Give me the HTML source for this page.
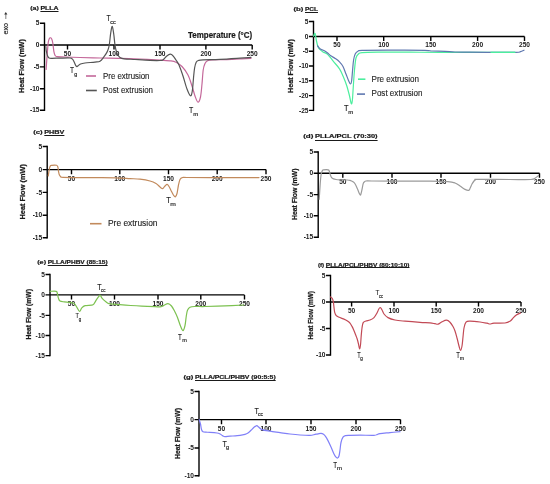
<!DOCTYPE html>
<html lang="en">
<head>
<meta charset="utf-8">
<title>DSC thermograms</title>
<style>
html,body{margin:0;padding:0;background:#fff;}
body{width:550px;height:484px;overflow:hidden;}
svg{display:block;}
</style>
</head>
<body>
<svg width="550" height="484" viewBox="0 0 550 484" font-family='"Liberation Sans", Arial, sans-serif'>
<rect width="550" height="484" fill="#fff"/>
<path d="M44.5 45H252.2" stroke="#000" stroke-width="1.4" fill="none"/>
<path d="M44.5 22.6V111" stroke="#000" stroke-width="1.4" fill="none"/>
<path d="M40 23.3H44.5M40 45H44.5M40 66.9H44.5M40 88.7H44.5M40 110.3H44.5M67.5 45V49.6M114 45V49.6M160 45V49.6M205.9 45V49.6M252.2 45V49.6" stroke="#000" stroke-width="1.4" fill="none"/>
<text x="39.5" y="25.41" font-size="7.3" font-weight="bold" text-anchor="end" fill="#1a1a1a" textLength="3.67" lengthAdjust="spacingAndGlyphs">5</text>
<text x="39.5" y="47.11" font-size="7.3" font-weight="bold" text-anchor="end" fill="#1a1a1a" textLength="3.67" lengthAdjust="spacingAndGlyphs">0</text>
<text x="39.5" y="69.01" font-size="7.3" font-weight="bold" text-anchor="end" fill="#1a1a1a" textLength="5.87" lengthAdjust="spacingAndGlyphs">-5</text>
<text x="39.5" y="90.81" font-size="7.3" font-weight="bold" text-anchor="end" fill="#1a1a1a" textLength="9.54" lengthAdjust="spacingAndGlyphs">-10</text>
<text x="39.5" y="112.41" font-size="7.3" font-weight="bold" text-anchor="end" fill="#1a1a1a" textLength="9.54" lengthAdjust="spacingAndGlyphs">-15</text>
<text x="67.5" y="55.9" font-size="7.3" font-weight="bold" text-anchor="middle" fill="#1a1a1a" textLength="7.34" lengthAdjust="spacingAndGlyphs">50</text>
<text x="114" y="55.9" font-size="7.3" font-weight="bold" text-anchor="middle" fill="#1a1a1a" textLength="11.01" lengthAdjust="spacingAndGlyphs">100</text>
<text x="160" y="55.9" font-size="7.3" font-weight="bold" text-anchor="middle" fill="#1a1a1a" textLength="11.01" lengthAdjust="spacingAndGlyphs">150</text>
<text x="205.9" y="55.9" font-size="7.3" font-weight="bold" text-anchor="middle" fill="#1a1a1a" textLength="11.01" lengthAdjust="spacingAndGlyphs">200</text>
<text x="252.2" y="55.9" font-size="7.3" font-weight="bold" text-anchor="middle" fill="#1a1a1a" textLength="11.01" lengthAdjust="spacingAndGlyphs">250</text>
<text transform="translate(21.8 66) rotate(-90)" x="0" y="2.41" font-size="7.6" font-weight="bold" text-anchor="middle" fill="#1a1a1a" stroke="#1a1a1a" stroke-width="0.25" textLength="54" lengthAdjust="spacingAndGlyphs">Heat Flow (mW)</text>
<text x="30.2" y="10" font-size="6.2" font-weight="bold" fill="#1a1a1a" stroke="#1a1a1a" stroke-width="0.22" textLength="8.6" lengthAdjust="spacingAndGlyphs">(a)</text>
<text x="40.4" y="10" font-size="6.2" font-weight="bold" fill="#1a1a1a" stroke="#1a1a1a" stroke-width="0.22" textLength="18.1" lengthAdjust="spacingAndGlyphs">PLLA</text>
<path d="M40.4 11.5H58.5" stroke="#1a1a1a" stroke-width="1" fill="none"/>
<path d="M46.1 69.5C46.32 66.53 47.03 56.28 47.4 51.7C47.77 47.12 47.97 44.22 48.3 42C48.63 39.78 49.02 39.1 49.4 38.4C49.78 37.7 50.2 37.67 50.6 37.8C51 37.93 51.43 38.33 51.8 39.2C52.17 40.07 52.45 40.92 52.8 43C53.15 45.08 53.5 49.6 53.9 51.7C54.3 53.8 54.63 54.77 55.2 55.6C55.77 56.43 55.67 56.47 57.3 56.7C58.93 56.93 61.22 56.87 65 57C68.78 57.13 74.17 57.33 80 57.5C85.83 57.67 93.33 57.87 100 58C106.67 58.13 113.33 58.13 120 58.3C126.67 58.47 133.33 58.72 140 59C146.67 59.28 155 59.7 160 60C165 60.3 167.33 60.43 170 60.8C172.67 61.17 174 61.25 176 62.2C178 63.15 180 64.37 182 66.5C184 68.63 186.33 71.75 188 75C189.67 78.25 190.83 82.5 192 86C193.17 89.5 194 93.3 195 96C196 98.7 197.08 102.03 198 102.2C198.92 102.37 199.83 100.03 200.5 97C201.17 93.97 201.55 88.5 202 84C202.45 79.5 202.7 73.42 203.2 70C203.7 66.58 204.28 65.03 205 63.5C205.72 61.97 206.33 61.42 207.5 60.8C208.67 60.18 209.08 60 212 59.8C214.92 59.6 220.33 59.75 225 59.6C229.67 59.45 235.67 59.1 240 58.9C244.33 58.7 249.17 58.48 251 58.4" stroke="#c4689a" stroke-width="1.2" fill="none" stroke-linejoin="round" stroke-linecap="round"/>
<path d="M45.9 46.5C45.97 47.25 46.02 49.42 46.3 51C46.58 52.58 47.13 54.83 47.6 56C48.07 57.17 48.37 57.62 49.1 58C49.83 58.38 50.18 58.28 52 58.3C53.82 58.32 57 58.15 60 58.1C63 58.05 67.92 57.82 70 58C72.08 58.18 71.78 58.48 72.5 59.2C73.22 59.92 73.75 61.23 74.3 62.3C74.85 63.37 75.35 64.88 75.8 65.6C76.25 66.32 76.58 66.6 77 66.6C77.42 66.6 77.72 66.03 78.3 65.6C78.88 65.17 79.38 64.43 80.5 64C81.62 63.57 82.58 63.32 85 63C87.42 62.68 92.5 62.4 95 62.1C97.5 61.8 98.58 61.98 100 61.2C101.42 60.42 102.35 58.87 103.5 57.4C104.65 55.93 106.03 54.03 106.9 52.4C107.77 50.77 108.25 49.25 108.7 47.6C109.15 45.95 109.25 45.03 109.6 42.5C109.95 39.97 110.35 35.08 110.8 32.4C111.25 29.72 111.8 26.05 112.3 26.4C112.8 26.75 113.38 31.62 113.8 34.5C114.22 37.38 114.48 41.3 114.8 43.7C115.12 46.1 115.28 47.18 115.7 48.9C116.12 50.62 116.58 52.58 117.3 54C118.02 55.42 118.83 56.6 120 57.4C121.17 58.2 121.8 58.45 124.3 58.8C126.8 59.15 130.72 59.23 135 59.5C139.28 59.77 145.83 60.23 150 60.4C154.17 60.57 157.83 60.6 160 60.5C162.17 60.4 161.92 60.5 163 59.8C164.08 59.1 165.28 57.23 166.5 56.3C167.72 55.37 169.22 54.28 170.3 54.2C171.38 54.12 172.05 54.83 173 55.8C173.95 56.77 175 58.47 176 60C177 61.53 177.83 62.33 179 65C180.17 67.67 181.67 72 183 76C184.33 80 185.75 85.7 187 89C188.25 92.3 189.62 95.47 190.5 95.8C191.38 96.13 191.8 93.97 192.3 91C192.8 88.03 193.12 81.83 193.5 78C193.88 74.17 194.15 70.62 194.6 68C195.05 65.38 195.55 63.55 196.2 62.3C196.85 61.05 197.37 60.9 198.5 60.5C199.63 60.1 199.42 60.08 203 59.9C206.58 59.72 213.83 59.68 220 59.4C226.17 59.12 234.83 58.53 240 58.2C245.17 57.87 249.17 57.53 251 57.4" stroke="#555555" stroke-width="1.2" fill="none" stroke-linejoin="round" stroke-linecap="round"/>
<path d="M313.5 36.5H524.5" stroke="#000" stroke-width="1.4" fill="none"/>
<path d="M313.5 20.8V111.1" stroke="#000" stroke-width="1.4" fill="none"/>
<path d="M309 21.5H313.5M309 36.5H313.5M309 51.2H313.5M309 66H313.5M309 80.8H313.5M309 95.6H313.5M309 110.4H313.5M337 36.5V41.1M383.7 36.5V41.1M430.8 36.5V41.1M477.6 36.5V41.1M524.5 36.5V41.1" stroke="#000" stroke-width="1.4" fill="none"/>
<text x="308.5" y="23.61" font-size="7.3" font-weight="bold" text-anchor="end" fill="#1a1a1a" textLength="3.67" lengthAdjust="spacingAndGlyphs">5</text>
<text x="308.5" y="38.61" font-size="7.3" font-weight="bold" text-anchor="end" fill="#1a1a1a" textLength="3.67" lengthAdjust="spacingAndGlyphs">0</text>
<text x="308.5" y="53.31" font-size="7.3" font-weight="bold" text-anchor="end" fill="#1a1a1a" textLength="5.87" lengthAdjust="spacingAndGlyphs">-5</text>
<text x="308.5" y="68.11" font-size="7.3" font-weight="bold" text-anchor="end" fill="#1a1a1a" textLength="9.54" lengthAdjust="spacingAndGlyphs">-10</text>
<text x="308.5" y="82.91" font-size="7.3" font-weight="bold" text-anchor="end" fill="#1a1a1a" textLength="9.54" lengthAdjust="spacingAndGlyphs">-15</text>
<text x="308.5" y="97.71" font-size="7.3" font-weight="bold" text-anchor="end" fill="#1a1a1a" textLength="9.54" lengthAdjust="spacingAndGlyphs">-20</text>
<text x="308.5" y="112.51" font-size="7.3" font-weight="bold" text-anchor="end" fill="#1a1a1a" textLength="9.54" lengthAdjust="spacingAndGlyphs">-25</text>
<text x="337" y="47.4" font-size="7.3" font-weight="bold" text-anchor="middle" fill="#1a1a1a" textLength="7.34" lengthAdjust="spacingAndGlyphs">50</text>
<text x="383.7" y="47.4" font-size="7.3" font-weight="bold" text-anchor="middle" fill="#1a1a1a" textLength="11.01" lengthAdjust="spacingAndGlyphs">100</text>
<text x="430.8" y="47.4" font-size="7.3" font-weight="bold" text-anchor="middle" fill="#1a1a1a" textLength="11.01" lengthAdjust="spacingAndGlyphs">150</text>
<text x="477.6" y="47.4" font-size="7.3" font-weight="bold" text-anchor="middle" fill="#1a1a1a" textLength="11.01" lengthAdjust="spacingAndGlyphs">200</text>
<text x="524.5" y="47.4" font-size="7.3" font-weight="bold" text-anchor="middle" fill="#1a1a1a" textLength="11.01" lengthAdjust="spacingAndGlyphs">250</text>
<text transform="translate(290.6 66) rotate(-90)" x="0" y="2.41" font-size="7.6" font-weight="bold" text-anchor="middle" fill="#1a1a1a" stroke="#1a1a1a" stroke-width="0.25" textLength="54" lengthAdjust="spacingAndGlyphs">Heat Flow (mW)</text>
<text x="293.5" y="11" font-size="6.2" font-weight="bold" fill="#1a1a1a" stroke="#1a1a1a" stroke-width="0.22" textLength="9.9" lengthAdjust="spacingAndGlyphs">(b)</text>
<text x="305" y="11" font-size="6.2" font-weight="bold" fill="#1a1a1a" stroke="#1a1a1a" stroke-width="0.22" textLength="13" lengthAdjust="spacingAndGlyphs">PCL</text>
<path d="M305 12.5H318" stroke="#1a1a1a" stroke-width="1" fill="none"/>
<path d="M313.6 36.2C313.83 35.73 314.52 32.6 315 33.4C315.48 34.2 316.03 38.87 316.5 41C316.97 43.13 317.3 44.83 317.8 46.2C318.3 47.57 318.63 48.25 319.5 49.2C320.37 50.15 321.83 51.17 323 51.9C324.17 52.63 325.33 52.75 326.5 53.6C327.67 54.45 328.85 55.7 330 57C331.15 58.3 331.82 59.43 333.4 61.4C334.98 63.37 337.9 66.37 339.5 68.8C341.1 71.23 341.83 73.3 343 76C344.17 78.7 345.45 81.83 346.5 85C347.55 88.17 348.5 91.87 349.3 95C350.1 98.13 350.78 102.97 351.3 103.8C351.82 104.63 352.08 102.63 352.4 100C352.72 97.37 352.85 93 353.2 88C353.55 83 354.03 75 354.5 70C354.97 65 355.33 60.67 356 58C356.67 55.33 357.5 54.9 358.5 54C359.5 53.1 358.42 52.9 362 52.6C365.58 52.3 372 52.27 380 52.2C388 52.13 400 52.18 410 52.2C420 52.22 428.33 52.28 440 52.3C451.67 52.32 467.5 52.3 480 52.3C492.5 52.3 509.17 52.3 515 52.3" stroke="#4cee9e" stroke-width="1.2" fill="none" stroke-linejoin="round" stroke-linecap="round"/>
<path d="M317.6 45.8C318 46.3 318.95 48.02 320 48.8C321.05 49.58 322.68 49.85 323.9 50.5C325.12 51.15 326.15 51.82 327.3 52.7C328.45 53.58 329.48 54.85 330.8 55.8C332.12 56.75 333.75 57.4 335.2 58.4C336.65 59.4 338.2 60.45 339.5 61.8C340.8 63.15 341.92 64.47 343 66.5C344.08 68.53 345.08 71.67 346 74C346.92 76.33 347.77 78.83 348.5 80.5C349.23 82.17 349.88 83.92 350.4 84C350.92 84.08 351.23 83.33 351.6 81C351.97 78.67 352.27 73.5 352.6 70C352.93 66.5 353.17 62.67 353.6 60C354.03 57.33 354.47 55.47 355.2 54C355.93 52.53 356.87 51.8 358 51.2C359.13 50.6 356.67 50.57 362 50.4C367.33 50.23 379.5 50.22 390 50.2C400.5 50.18 418 50.17 425 50.3C432 50.43 428.67 50.83 432 51C435.33 51.17 441.17 51.13 445 51.3C448.83 51.47 450.83 51.85 455 52C459.17 52.15 463.83 52.15 470 52.2C476.17 52.25 484.33 52.28 492 52.3C499.67 52.32 511.25 52.42 516 52.3C520.75 52.18 519.17 51.95 520.5 51.6C521.83 51.25 523.42 50.43 524 50.2" stroke="#5f78b0" stroke-width="1.2" fill="none" stroke-linejoin="round" stroke-linecap="round"/>
<path d="M491 52.3C493 52.3 499 52.3 503 52.3C507 52.3 513 52.3 515 52.3" stroke="#4cee9e" stroke-width="1.2" fill="none" stroke-linejoin="round" stroke-linecap="round"/>
<path d="M47.2 169.6H266" stroke="#000" stroke-width="1.4" fill="none"/>
<path d="M47.2 145.8V238.5" stroke="#000" stroke-width="1.4" fill="none"/>
<path d="M42.7 146.5H47.2M42.7 169.6H47.2M42.7 192.4H47.2M42.7 215.2H47.2M42.7 237.8H47.2M71.5 169.6V174.2M119.8 169.6V174.2M168.5 169.6V174.2M217.2 169.6V174.2M266 169.6V174.2" stroke="#000" stroke-width="1.4" fill="none"/>
<text x="42.2" y="148.61" font-size="7.3" font-weight="bold" text-anchor="end" fill="#1a1a1a" textLength="3.67" lengthAdjust="spacingAndGlyphs">5</text>
<text x="42.2" y="171.71" font-size="7.3" font-weight="bold" text-anchor="end" fill="#1a1a1a" textLength="3.67" lengthAdjust="spacingAndGlyphs">0</text>
<text x="42.2" y="194.51" font-size="7.3" font-weight="bold" text-anchor="end" fill="#1a1a1a" textLength="5.87" lengthAdjust="spacingAndGlyphs">-5</text>
<text x="42.2" y="217.31" font-size="7.3" font-weight="bold" text-anchor="end" fill="#1a1a1a" textLength="9.54" lengthAdjust="spacingAndGlyphs">-10</text>
<text x="42.2" y="239.91" font-size="7.3" font-weight="bold" text-anchor="end" fill="#1a1a1a" textLength="9.54" lengthAdjust="spacingAndGlyphs">-15</text>
<text x="71.5" y="180.5" font-size="7.3" font-weight="bold" text-anchor="middle" fill="#1a1a1a" textLength="7.34" lengthAdjust="spacingAndGlyphs">50</text>
<text x="119.8" y="180.5" font-size="7.3" font-weight="bold" text-anchor="middle" fill="#1a1a1a" textLength="11.01" lengthAdjust="spacingAndGlyphs">100</text>
<text x="168.5" y="180.5" font-size="7.3" font-weight="bold" text-anchor="middle" fill="#1a1a1a" textLength="11.01" lengthAdjust="spacingAndGlyphs">150</text>
<text x="217.2" y="180.5" font-size="7.3" font-weight="bold" text-anchor="middle" fill="#1a1a1a" textLength="11.01" lengthAdjust="spacingAndGlyphs">200</text>
<text x="266" y="180.5" font-size="7.3" font-weight="bold" text-anchor="middle" fill="#1a1a1a" textLength="11.01" lengthAdjust="spacingAndGlyphs">250</text>
<text transform="translate(23 191.8) rotate(-90)" x="0" y="2.41" font-size="7.6" font-weight="bold" text-anchor="middle" fill="#1a1a1a" stroke="#1a1a1a" stroke-width="0.25" textLength="55.5" lengthAdjust="spacingAndGlyphs">Heat Flow (mW)</text>
<text x="33.2" y="134" font-size="6.2" font-weight="bold" fill="#1a1a1a" stroke="#1a1a1a" stroke-width="0.22" textLength="9.5" lengthAdjust="spacingAndGlyphs">(c)</text>
<text x="44.3" y="134" font-size="6.2" font-weight="bold" fill="#1a1a1a" stroke="#1a1a1a" stroke-width="0.22" textLength="20.1" lengthAdjust="spacingAndGlyphs">PHBV</text>
<path d="M44.3 135.5H64.4" stroke="#1a1a1a" stroke-width="1" fill="none"/>
<path d="M48.3 175.9C48.4 175.13 48.7 172.6 48.9 171.3C49.1 170 49.25 169.02 49.5 168.1C49.75 167.18 50.07 166.27 50.4 165.8C50.73 165.33 50.48 165.38 51.5 165.3C52.52 165.22 55.43 164.98 56.5 165.3C57.57 165.62 57.57 166.2 57.9 167.2C58.23 168.2 58.27 170.03 58.5 171.3C58.73 172.57 58.92 173.88 59.3 174.8C59.68 175.72 60.17 176.37 60.8 176.8C61.43 177.23 59.9 177.27 63.1 177.4C66.3 177.53 73.85 177.57 80 177.6C86.15 177.63 94.17 177.57 100 177.6C105.83 177.63 110 177.63 115 177.8C120 177.97 125.83 178.37 130 178.6C134.17 178.83 136.67 178.8 140 179.2C143.33 179.6 147.33 180.28 150 181C152.67 181.72 154.33 182.5 156 183.5C157.67 184.5 158.9 186.13 160 187C161.1 187.87 161.8 188.83 162.6 188.7C163.4 188.57 164.05 186.93 164.8 186.2C165.55 185.47 166.4 184.25 167.1 184.3C167.8 184.35 168.35 185.47 169 186.5C169.65 187.53 170.27 189.08 171 190.5C171.73 191.92 172.68 193.93 173.4 195C174.12 196.07 174.7 197.15 175.3 196.9C175.9 196.65 176.48 195.4 177 193.5C177.52 191.6 177.9 187.83 178.4 185.5C178.9 183.17 179.35 180.82 180 179.5C180.65 178.18 181.13 177.93 182.3 177.6C183.47 177.27 182.38 177.5 187 177.5C191.62 177.5 198 177.58 210 177.6C222 177.62 250.83 177.6 259 177.6" stroke="#c28a5c" stroke-width="1.2" fill="none" stroke-linejoin="round" stroke-linecap="round"/>
<path d="M318.2 173.2H539.5" stroke="#000" stroke-width="1.4" fill="none"/>
<path d="M318.2 151.3V237.9" stroke="#000" stroke-width="1.4" fill="none"/>
<path d="M313.7 152H318.2M313.7 173.2H318.2M313.7 194.6H318.2M313.7 215.7H318.2M313.7 237.2H318.2M342.8 173.2V177.8M392 173.2V177.8M441 173.2V177.8M490.5 173.2V177.8M539.5 173.2V177.8" stroke="#000" stroke-width="1.4" fill="none"/>
<text x="313.2" y="154.11" font-size="7.3" font-weight="bold" text-anchor="end" fill="#1a1a1a" textLength="3.67" lengthAdjust="spacingAndGlyphs">5</text>
<text x="313.2" y="175.31" font-size="7.3" font-weight="bold" text-anchor="end" fill="#1a1a1a" textLength="3.67" lengthAdjust="spacingAndGlyphs">0</text>
<text x="313.2" y="196.71" font-size="7.3" font-weight="bold" text-anchor="end" fill="#1a1a1a" textLength="5.87" lengthAdjust="spacingAndGlyphs">-5</text>
<text x="313.2" y="217.81" font-size="7.3" font-weight="bold" text-anchor="end" fill="#1a1a1a" textLength="9.54" lengthAdjust="spacingAndGlyphs">-10</text>
<text x="313.2" y="239.31" font-size="7.3" font-weight="bold" text-anchor="end" fill="#1a1a1a" textLength="9.54" lengthAdjust="spacingAndGlyphs">-15</text>
<text x="342.8" y="184.1" font-size="7.3" font-weight="bold" text-anchor="middle" fill="#1a1a1a" textLength="7.34" lengthAdjust="spacingAndGlyphs">50</text>
<text x="392" y="184.1" font-size="7.3" font-weight="bold" text-anchor="middle" fill="#1a1a1a" textLength="11.01" lengthAdjust="spacingAndGlyphs">100</text>
<text x="441" y="184.1" font-size="7.3" font-weight="bold" text-anchor="middle" fill="#1a1a1a" textLength="11.01" lengthAdjust="spacingAndGlyphs">150</text>
<text x="490.5" y="184.1" font-size="7.3" font-weight="bold" text-anchor="middle" fill="#1a1a1a" textLength="11.01" lengthAdjust="spacingAndGlyphs">200</text>
<text x="539.5" y="184.1" font-size="7.3" font-weight="bold" text-anchor="middle" fill="#1a1a1a" textLength="11.01" lengthAdjust="spacingAndGlyphs">250</text>
<text transform="translate(294.7 194.3) rotate(-90)" x="0" y="2.41" font-size="7.6" font-weight="bold" text-anchor="middle" fill="#1a1a1a" stroke="#1a1a1a" stroke-width="0.25" textLength="51.5" lengthAdjust="spacingAndGlyphs">Heat Flow (mW)</text>
<text x="303.2" y="138.3" font-size="6.2" font-weight="bold" fill="#1a1a1a" stroke="#1a1a1a" stroke-width="0.22" textLength="10.2" lengthAdjust="spacingAndGlyphs">(d)</text>
<text x="315" y="138.3" font-size="6.2" font-weight="bold" fill="#1a1a1a" stroke="#1a1a1a" stroke-width="0.22" textLength="62.6" lengthAdjust="spacingAndGlyphs">PLLA/PCL (70:30)</text>
<path d="M315 140.5H377.6" stroke="#1a1a1a" stroke-width="1" fill="none"/>
<path d="M319.2 199.3C319.3 197.75 319.58 193.22 319.8 190C320.02 186.78 320.25 182.75 320.5 180C320.75 177.25 320.98 175.07 321.3 173.5C321.62 171.93 322.03 171.2 322.4 170.6C322.77 170 322.52 170.02 323.5 169.9C324.48 169.78 327.32 169.63 328.3 169.9C329.28 170.17 329.05 170.65 329.4 171.5C329.75 172.35 330.03 173.98 330.4 175C330.77 176.02 331.08 176.95 331.6 177.6C332.12 178.25 332.77 178.58 333.5 178.9C334.23 179.22 334.92 179.35 336 179.5C337.08 179.65 338.17 179.72 340 179.8C341.83 179.88 345.33 179.9 347 180C348.67 180.1 349 180.1 350 180.4C351 180.7 352.17 181.23 353 181.8C353.83 182.37 354.27 182.65 355 183.8C355.73 184.95 356.7 187.13 357.4 188.7C358.1 190.27 358.7 192.12 359.2 193.2C359.7 194.28 360.05 195.3 360.4 195.2C360.75 195.1 361.02 193.63 361.3 192.6C361.58 191.57 361.78 190.5 362.1 189C362.42 187.5 362.8 184.8 363.2 183.6C363.6 182.4 364.03 182.23 364.5 181.8C364.97 181.37 364.75 181.13 366 181C367.25 180.87 366.33 180.97 372 181C377.67 181.03 390.33 181.18 400 181.2C409.67 181.22 422 181.03 430 181.1C438 181.17 443.83 181.28 448 181.6C452.17 181.92 453 182.27 455 183C457 183.73 458.33 184.93 460 186C461.67 187.07 463.55 188.67 465 189.4C466.45 190.13 467.83 190.63 468.7 190.4C469.57 190.17 469.65 189.07 470.2 188C470.75 186.93 471.37 185.17 472 184C472.63 182.83 473.4 181.73 474 181C474.6 180.27 474.93 179.87 475.6 179.6C476.27 179.33 472.27 179.42 478 179.4C483.73 179.38 501.17 179.48 510 179.5C518.83 179.52 526.83 179.72 531 179.5C535.17 179.28 533.75 178.85 535 178.2C536.25 177.55 537.92 176.03 538.5 175.6" stroke="#9a9a9a" stroke-width="1.2" fill="none" stroke-linejoin="round" stroke-linecap="round"/>
<path d="M50 294.9H244.5" stroke="#000" stroke-width="1.4" fill="none"/>
<path d="M50 273.8V356.3" stroke="#000" stroke-width="1.4" fill="none"/>
<path d="M45.5 274.5H50M45.5 294.9H50M45.5 315.4H50M45.5 335.5H50M45.5 355.6H50M71.5 294.9V299.5M114.5 294.9V299.5M158 294.9V299.5M200.8 294.9V299.5M244.5 294.9V299.5" stroke="#000" stroke-width="1.4" fill="none"/>
<text x="45" y="276.61" font-size="7.3" font-weight="bold" text-anchor="end" fill="#1a1a1a" textLength="3.67" lengthAdjust="spacingAndGlyphs">5</text>
<text x="45" y="297.01" font-size="7.3" font-weight="bold" text-anchor="end" fill="#1a1a1a" textLength="3.67" lengthAdjust="spacingAndGlyphs">0</text>
<text x="45" y="317.51" font-size="7.3" font-weight="bold" text-anchor="end" fill="#1a1a1a" textLength="5.87" lengthAdjust="spacingAndGlyphs">-5</text>
<text x="45" y="337.61" font-size="7.3" font-weight="bold" text-anchor="end" fill="#1a1a1a" textLength="9.54" lengthAdjust="spacingAndGlyphs">-10</text>
<text x="45" y="357.71" font-size="7.3" font-weight="bold" text-anchor="end" fill="#1a1a1a" textLength="9.54" lengthAdjust="spacingAndGlyphs">-15</text>
<text x="71.5" y="305.8" font-size="7.3" font-weight="bold" text-anchor="middle" fill="#1a1a1a" textLength="7.34" lengthAdjust="spacingAndGlyphs">50</text>
<text x="114.5" y="305.8" font-size="7.3" font-weight="bold" text-anchor="middle" fill="#1a1a1a" textLength="11.01" lengthAdjust="spacingAndGlyphs">100</text>
<text x="158" y="305.8" font-size="7.3" font-weight="bold" text-anchor="middle" fill="#1a1a1a" textLength="11.01" lengthAdjust="spacingAndGlyphs">150</text>
<text x="200.8" y="305.8" font-size="7.3" font-weight="bold" text-anchor="middle" fill="#1a1a1a" textLength="11.01" lengthAdjust="spacingAndGlyphs">200</text>
<text x="244.5" y="305.8" font-size="7.3" font-weight="bold" text-anchor="middle" fill="#1a1a1a" textLength="11.01" lengthAdjust="spacingAndGlyphs">250</text>
<text transform="translate(29 314.3) rotate(-90)" x="0" y="2.41" font-size="7.6" font-weight="bold" text-anchor="middle" fill="#1a1a1a" stroke="#1a1a1a" stroke-width="0.25" textLength="50.5" lengthAdjust="spacingAndGlyphs">Heat Flow (mW)</text>
<text x="37.2" y="264" font-size="6.2" font-weight="bold" fill="#1a1a1a" stroke="#1a1a1a" stroke-width="0.22" textLength="8.9" lengthAdjust="spacingAndGlyphs">(e)</text>
<text x="47.7" y="264" font-size="6.2" font-weight="bold" fill="#1a1a1a" stroke="#1a1a1a" stroke-width="0.22" textLength="59.9" lengthAdjust="spacingAndGlyphs">PLLA/PHBV (85:15)</text>
<path d="M47.7 265.5H107.6" stroke="#1a1a1a" stroke-width="1" fill="none"/>
<path d="M50.2 291.3C51.2 291.3 55.02 290.98 56.2 291.3C57.38 291.62 56.93 292.07 57.3 293.2C57.67 294.33 57.95 296.78 58.4 298.1C58.85 299.42 59 300.47 60 301.1C61 301.73 62.77 301.68 64.4 301.9C66.03 302.12 68.17 302.13 69.8 302.4C71.43 302.67 73.02 302.67 74.2 303.5C75.38 304.33 76 306.07 76.9 307.4C77.8 308.73 78.78 311.42 79.6 311.5C80.42 311.58 80.88 308.87 81.8 307.9C82.72 306.93 83.47 306.15 85.1 305.7C86.73 305.25 90.15 305.47 91.6 305.2C93.05 304.93 92.98 305.02 93.8 304.1C94.62 303.18 95.58 301.07 96.5 299.7C97.42 298.33 98.67 296.62 99.3 295.9C99.93 295.18 99.78 294.93 100.3 295.4C100.82 295.87 101.42 297.6 102.4 298.7C103.38 299.8 105.12 301.18 106.2 302C107.28 302.82 107.53 303.23 108.9 303.6C110.27 303.97 112.58 304.02 114.4 304.2C116.22 304.38 117.08 304.48 119.8 304.7C122.52 304.92 127.07 305.27 130.7 305.5C134.33 305.73 137.55 305.92 141.6 306.1C145.65 306.28 151.93 306.47 155 306.6C158.07 306.73 158.58 307.07 160 306.9C161.42 306.73 162.17 306.15 163.5 305.6C164.83 305.05 166.67 303.53 168 303.6C169.33 303.67 170.42 304.77 171.5 306C172.58 307.23 173.5 309.08 174.5 311C175.5 312.92 176.5 315 177.5 317.5C178.5 320 179.58 323.82 180.5 326C181.42 328.18 182.25 330.68 183 330.6C183.75 330.52 184.45 327.93 185 325.5C185.55 323.07 185.88 318.53 186.3 316C186.72 313.47 186.88 311.75 187.5 310.3C188.12 308.85 188.75 307.93 190 307.3C191.25 306.67 192.5 306.63 195 306.5C197.5 306.37 200 306.62 205 306.5C210 306.38 218.5 306.05 225 305.8C231.5 305.55 240.83 305.13 244 305" stroke="#7cc150" stroke-width="1.2" fill="none" stroke-linejoin="round" stroke-linecap="round"/>
<path d="M330.5 302H521" stroke="#000" stroke-width="1.4" fill="none"/>
<path d="M330.5 274.8V355.7" stroke="#000" stroke-width="1.4" fill="none"/>
<path d="M326 275.5H330.5M326 302H330.5M326 328.5H330.5M326 355H330.5M351.6 302V306.6M394 302V306.6M436.2 302V306.6M478.5 302V306.6M521 302V306.6" stroke="#000" stroke-width="1.4" fill="none"/>
<text x="325.5" y="277.61" font-size="7.3" font-weight="bold" text-anchor="end" fill="#1a1a1a" textLength="3.67" lengthAdjust="spacingAndGlyphs">5</text>
<text x="325.5" y="304.11" font-size="7.3" font-weight="bold" text-anchor="end" fill="#1a1a1a" textLength="3.67" lengthAdjust="spacingAndGlyphs">0</text>
<text x="325.5" y="330.61" font-size="7.3" font-weight="bold" text-anchor="end" fill="#1a1a1a" textLength="5.87" lengthAdjust="spacingAndGlyphs">-5</text>
<text x="325.5" y="357.11" font-size="7.3" font-weight="bold" text-anchor="end" fill="#1a1a1a" textLength="9.54" lengthAdjust="spacingAndGlyphs">-10</text>
<text x="351.6" y="312.9" font-size="7.3" font-weight="bold" text-anchor="middle" fill="#1a1a1a" textLength="7.34" lengthAdjust="spacingAndGlyphs">50</text>
<text x="394" y="312.9" font-size="7.3" font-weight="bold" text-anchor="middle" fill="#1a1a1a" textLength="11.01" lengthAdjust="spacingAndGlyphs">100</text>
<text x="436.2" y="312.9" font-size="7.3" font-weight="bold" text-anchor="middle" fill="#1a1a1a" textLength="11.01" lengthAdjust="spacingAndGlyphs">150</text>
<text x="478.5" y="312.9" font-size="7.3" font-weight="bold" text-anchor="middle" fill="#1a1a1a" textLength="11.01" lengthAdjust="spacingAndGlyphs">200</text>
<text x="521" y="312.9" font-size="7.3" font-weight="bold" text-anchor="middle" fill="#1a1a1a" textLength="11.01" lengthAdjust="spacingAndGlyphs">250</text>
<text transform="translate(310.2 315.3) rotate(-90)" x="0" y="2.41" font-size="7.6" font-weight="bold" text-anchor="middle" fill="#1a1a1a" stroke="#1a1a1a" stroke-width="0.25" textLength="48.5" lengthAdjust="spacingAndGlyphs">Heat Flow (mW)</text>
<text x="317.9" y="266.7" font-size="6.2" font-weight="bold" fill="#1a1a1a" stroke="#1a1a1a" stroke-width="0.22" textLength="6.3" lengthAdjust="spacingAndGlyphs">(f)</text>
<text x="325.8" y="266.7" font-size="6.2" font-weight="bold" fill="#1a1a1a" stroke="#1a1a1a" stroke-width="0.22" textLength="83.7" lengthAdjust="spacingAndGlyphs">PLLA/PCL/PHBV (80:10:10)</text>
<path d="M325.8 267.5H409.5" stroke="#1a1a1a" stroke-width="1" fill="none"/>
<path d="M330.6 297C330.87 297.22 331.75 297.53 332.2 298.3C332.65 299.07 333.02 300.23 333.3 301.6C333.58 302.97 333.67 304.72 333.9 306.5C334.13 308.28 334.3 310.78 334.7 312.3C335.1 313.82 335.55 314.77 336.3 315.6C337.05 316.43 338.02 316.75 339.2 317.3C340.38 317.85 342.02 318.28 343.4 318.9C344.78 319.52 346.4 320.3 347.5 321C348.6 321.7 349.25 322.2 350 323.1C350.75 324 351.38 325.25 352 326.4C352.62 327.55 353.12 328.65 353.7 330C354.28 331.35 354.92 333 355.5 334.5C356.08 336 356.7 337.42 357.2 339C357.7 340.58 358.12 342.37 358.5 344C358.88 345.63 359.17 348.63 359.5 348.8C359.83 348.97 360.22 347.13 360.5 345C360.78 342.87 360.95 338.83 361.2 336C361.45 333.17 361.67 330.23 362 328C362.33 325.77 362.53 323.77 363.2 322.6C363.87 321.43 364.87 321.43 366 321C367.13 320.57 368.67 320.57 370 320C371.33 319.43 372.83 318.77 374 317.6C375.17 316.43 376.2 314.43 377 313C377.8 311.57 378.27 309.92 378.8 309C379.33 308.08 379.7 307.42 380.2 307.5C380.7 307.58 381.17 308.42 381.8 309.5C382.43 310.58 382.97 312.65 384 314C385.03 315.35 386.17 316.6 388 317.6C389.83 318.6 392.17 319.4 395 320C397.83 320.6 400.83 320.8 405 321.2C409.17 321.6 415.83 322.12 420 322.4C424.17 322.68 427.5 322.68 430 322.9C432.5 323.12 433.67 323.48 435 323.7C436.33 323.92 436.83 324.52 438 324.2C439.17 323.88 440.58 322.47 442 321.8C443.42 321.13 445.17 320.13 446.5 320.2C447.83 320.27 448.92 321.15 450 322.2C451.08 323.25 452.17 325.03 453 326.5C453.83 327.97 454.33 329.08 455 331C455.67 332.92 456.33 335.5 457 338C457.67 340.5 458.42 343.92 459 346C459.58 348.08 460 350.5 460.5 350.5C461 350.5 461.58 348.25 462 346C462.42 343.75 462.67 340 463 337C463.33 334 463.5 330.47 464 328C464.5 325.53 465 323.33 466 322.2C467 321.07 467.67 321.23 470 321.2C472.33 321.17 477.17 321.67 480 322C482.83 322.33 485.33 322.87 487 323.2C488.67 323.53 488.83 324 490 324C491.17 324 491.5 323.37 494 323.2C496.5 323.03 502.33 323.33 505 323C507.67 322.67 508.67 322 510 321.2C511.33 320.4 512 319.2 513 318.2C514 317.2 514.75 316.07 516 315.2C517.25 314.33 519.75 313.37 520.5 313" stroke="#c24a56" stroke-width="1.2" fill="none" stroke-linejoin="round" stroke-linecap="round"/>
<path d="M199 419.6H400.5" stroke="#000" stroke-width="1.4" fill="none"/>
<path d="M199 390.8V476.5" stroke="#000" stroke-width="1.4" fill="none"/>
<path d="M194.5 391.5H199M194.5 419.6H199M194.5 448H199M194.5 475.8H199M221.5 419.6V424.2M266 419.6V424.2M311 419.6V424.2M356 419.6V424.2M400.5 419.6V424.2" stroke="#000" stroke-width="1.4" fill="none"/>
<text x="194" y="393.61" font-size="7.3" font-weight="bold" text-anchor="end" fill="#1a1a1a" textLength="3.67" lengthAdjust="spacingAndGlyphs">5</text>
<text x="194" y="421.71" font-size="7.3" font-weight="bold" text-anchor="end" fill="#1a1a1a" textLength="3.67" lengthAdjust="spacingAndGlyphs">0</text>
<text x="194" y="450.11" font-size="7.3" font-weight="bold" text-anchor="end" fill="#1a1a1a" textLength="5.87" lengthAdjust="spacingAndGlyphs">-5</text>
<text x="194" y="477.91" font-size="7.3" font-weight="bold" text-anchor="end" fill="#1a1a1a" textLength="9.54" lengthAdjust="spacingAndGlyphs">-10</text>
<text x="221.5" y="430.5" font-size="7.3" font-weight="bold" text-anchor="middle" fill="#1a1a1a" textLength="7.34" lengthAdjust="spacingAndGlyphs">50</text>
<text x="266" y="430.5" font-size="7.3" font-weight="bold" text-anchor="middle" fill="#1a1a1a" textLength="11.01" lengthAdjust="spacingAndGlyphs">100</text>
<text x="311" y="430.5" font-size="7.3" font-weight="bold" text-anchor="middle" fill="#1a1a1a" textLength="11.01" lengthAdjust="spacingAndGlyphs">150</text>
<text x="356" y="430.5" font-size="7.3" font-weight="bold" text-anchor="middle" fill="#1a1a1a" textLength="11.01" lengthAdjust="spacingAndGlyphs">200</text>
<text x="400.5" y="430.5" font-size="7.3" font-weight="bold" text-anchor="middle" fill="#1a1a1a" textLength="11.01" lengthAdjust="spacingAndGlyphs">250</text>
<text transform="translate(177.4 433.5) rotate(-90)" x="0" y="2.41" font-size="7.6" font-weight="bold" text-anchor="middle" fill="#1a1a1a" stroke="#1a1a1a" stroke-width="0.25" textLength="51" lengthAdjust="spacingAndGlyphs">Heat Flow (mW)</text>
<text x="183.5" y="378.7" font-size="6.2" font-weight="bold" fill="#1a1a1a" stroke="#1a1a1a" stroke-width="0.22" textLength="9.9" lengthAdjust="spacingAndGlyphs">(g)</text>
<text x="195" y="378.7" font-size="6.2" font-weight="bold" fill="#1a1a1a" stroke="#1a1a1a" stroke-width="0.22" textLength="80.7" lengthAdjust="spacingAndGlyphs">PLLA/PCL/PHBV (90:5:5)</text>
<path d="M195 380.5H275.7" stroke="#1a1a1a" stroke-width="1" fill="none"/>
<path d="M199.2 419.6C199.42 420.33 200.12 422.35 200.5 424C200.88 425.65 201.08 428.2 201.5 429.5C201.92 430.8 202.25 431.35 203 431.8C203.75 432.25 204.83 432.12 206 432.2C207.17 432.28 208.17 432.17 210 432.3C211.83 432.43 215.33 432.72 217 433C218.67 433.28 219.08 433.57 220 434C220.92 434.43 221.67 435.17 222.5 435.6C223.33 436.03 223.75 436.5 225 436.6C226.25 436.7 227.5 436.4 230 436.2C232.5 436 237.5 435.7 240 435.4C242.5 435.1 243.67 434.8 245 434.4C246.33 434 247 433.68 248 433C249 432.32 250 431.25 251 430.3C252 429.35 253.03 428.07 254 427.3C254.97 426.53 256.03 425.75 256.8 425.7C257.57 425.65 257.73 426.35 258.6 427C259.47 427.65 260.1 428.9 262 429.6C263.9 430.3 267 430.7 270 431.2C273 431.7 276.67 432.13 280 432.6C283.33 433.07 286.67 433.6 290 434C293.33 434.4 296.67 434.77 300 435C303.33 435.23 307.5 435.5 310 435.4C312.5 435.3 313.67 434.67 315 434.4C316.33 434.13 317 433.98 318 433.8C319 433.62 320.08 433.23 321 433.3C321.92 433.37 322.75 433.7 323.5 434.2C324.25 434.7 324.75 435.23 325.5 436.3C326.25 437.37 327.08 438.82 328 440.6C328.92 442.38 330 444.77 331 447C332 449.23 333.17 452.3 334 454C334.83 455.7 335.4 456.53 336 457.2C336.6 457.87 337.1 458.2 337.6 458C338.1 457.8 338.6 457.33 339 456C339.4 454.67 339.67 452.25 340 450C340.33 447.75 340.5 444.63 341 442.5C341.5 440.37 342.25 438.35 343 437.2C343.75 436.05 344.33 435.92 345.5 435.6C346.67 435.28 347.58 435.37 350 435.3C352.42 435.23 356 435.2 360 435.2C364 435.2 371.17 435.4 374 435.3C376.83 435.2 376 434.88 377 434.6C378 434.32 377.83 433.93 380 433.6C382.17 433.27 386.67 432.93 390 432.6C393.33 432.27 398.33 431.77 400 431.6" stroke="#8080f8" stroke-width="1.2" fill="none" stroke-linejoin="round" stroke-linecap="round"/>
<text transform="translate(5.7 34.6) rotate(-90)" x="0" y="2.4" font-size="7.2" fill="#2a2a2a" stroke="#2a2a2a" stroke-width="0.2" textLength="11.6" lengthAdjust="spacingAndGlyphs">exo</text>
<path d="M5.8 19V13.6" stroke="#888" stroke-width="1.1" fill="none"/>
<path d="M5.8 11.9L4.2 14.6H7.4Z" fill="#333"/>
<text x="188" y="38.3" font-size="8.4" font-weight="bold" fill="#1a1a1a" textLength="64.2" lengthAdjust="spacingAndGlyphs" stroke="#1a1a1a" stroke-width="0.2">Temperature (°C)</text>
<path d="M86 76H96" stroke="#c4689a" stroke-width="1.6" fill="none"/>
<text x="103" y="78.7" font-size="8.6" fill="#222" textLength="46.5" lengthAdjust="spacingAndGlyphs" stroke="#222" stroke-width="0.12">Pre extrusion</text>
<path d="M86 90.5H96.8" stroke="#555555" stroke-width="1.6" fill="none"/>
<text x="103" y="92.6" font-size="8.6" fill="#222" textLength="50" lengthAdjust="spacingAndGlyphs" stroke="#222" stroke-width="0.12">Post extrusion</text>
<path d="M358 79.2H365.4" stroke="#4cee9e" stroke-width="1.6" fill="none"/>
<text x="371.5" y="81.6" font-size="8.6" fill="#222" textLength="47.6" lengthAdjust="spacingAndGlyphs" stroke="#222" stroke-width="0.12">Pre extrusion</text>
<path d="M357 94.1H365" stroke="#5f78b0" stroke-width="1.6" fill="none"/>
<text x="371.5" y="96" font-size="8.6" fill="#222" textLength="51.1" lengthAdjust="spacingAndGlyphs" stroke="#222" stroke-width="0.12">Post extrusion</text>
<path d="M90 223.7H101.5" stroke="#c28a5c" stroke-width="1.6" fill="none"/>
<text x="108" y="226.4" font-size="8.8" fill="#222" textLength="49.5" lengthAdjust="spacingAndGlyphs" stroke="#222" stroke-width="0.12">Pre extrusion</text>
<text transform="translate(106.5 21) scale(0.81 1)" font-size="8.4" fill="#1a1a1a" stroke="#1a1a1a" stroke-width="0.12">T</text>
<text x="110.35" y="24" font-size="5.2" fill="#1a1a1a" stroke="#1a1a1a" stroke-width="0.15" textLength="5.4" lengthAdjust="spacingAndGlyphs">cc</text>
<text transform="translate(70.1 73) scale(0.79 1)" font-size="8.4" fill="#1a1a1a" stroke="#1a1a1a" stroke-width="0.12">T</text>
<text x="74.15" y="76" font-size="5.2" fill="#1a1a1a" stroke="#1a1a1a" stroke-width="0.15" textLength="3" lengthAdjust="spacingAndGlyphs">g</text>
<text transform="translate(189.1 113) scale(0.83 1)" font-size="8.4" fill="#1a1a1a" stroke="#1a1a1a" stroke-width="0.12">T</text>
<text x="193.15" y="116" font-size="5.2" fill="#1a1a1a" stroke="#1a1a1a" stroke-width="0.15" textLength="5" lengthAdjust="spacingAndGlyphs">m</text>
<text transform="translate(344.1 111) scale(0.89 1)" font-size="8.4" fill="#1a1a1a" stroke="#1a1a1a" stroke-width="0.12">T</text>
<text x="348.15" y="114" font-size="5.2" fill="#1a1a1a" stroke="#1a1a1a" stroke-width="0.15" textLength="5" lengthAdjust="spacingAndGlyphs">m</text>
<text transform="translate(166.2 203) scale(0.89 1)" font-size="8.4" fill="#1a1a1a" stroke="#1a1a1a" stroke-width="0.12">T</text>
<text x="170.35" y="206" font-size="5.2" fill="#1a1a1a" stroke="#1a1a1a" stroke-width="0.15" textLength="5.6" lengthAdjust="spacingAndGlyphs">m</text>
<text transform="translate(97.2 290) scale(0.85 1)" font-size="8.4" fill="#1a1a1a" stroke="#1a1a1a" stroke-width="0.12">T</text>
<text x="101.05" y="292" font-size="5.2" fill="#1a1a1a" stroke="#1a1a1a" stroke-width="0.15" textLength="4.4" lengthAdjust="spacingAndGlyphs">cc</text>
<text transform="translate(75.4 318) scale(0.74 1)" font-size="7.6" fill="#1a1a1a" stroke="#1a1a1a" stroke-width="0.12">T</text>
<text x="78.85" y="321" font-size="5.2" fill="#1a1a1a" stroke="#1a1a1a" stroke-width="0.15" textLength="2.4" lengthAdjust="spacingAndGlyphs">g</text>
<text transform="translate(178.1 340) scale(0.75 1)" font-size="8.4" fill="#1a1a1a" stroke="#1a1a1a" stroke-width="0.12">T</text>
<text x="182.15" y="342" font-size="5.2" fill="#1a1a1a" stroke="#1a1a1a" stroke-width="0.15" textLength="4.6" lengthAdjust="spacingAndGlyphs">m</text>
<text transform="translate(375.5 295) scale(0.83 1)" font-size="7.6" fill="#1a1a1a" stroke="#1a1a1a" stroke-width="0.12">T</text>
<text x="379.05" y="298" font-size="5.2" fill="#1a1a1a" stroke="#1a1a1a" stroke-width="0.15" textLength="4.1" lengthAdjust="spacingAndGlyphs">cc</text>
<text transform="translate(357.2 358) scale(0.67 1)" font-size="8.4" fill="#1a1a1a" stroke="#1a1a1a" stroke-width="0.12">T</text>
<text x="360.25" y="360" font-size="5.2" fill="#1a1a1a" stroke="#1a1a1a" stroke-width="0.15" textLength="2.6" lengthAdjust="spacingAndGlyphs">g</text>
<text transform="translate(456.2 358) scale(0.71 1)" font-size="8.4" fill="#1a1a1a" stroke="#1a1a1a" stroke-width="0.12">T</text>
<text x="459.65" y="360" font-size="5.2" fill="#1a1a1a" stroke="#1a1a1a" stroke-width="0.15" textLength="4.3" lengthAdjust="spacingAndGlyphs">m</text>
<text transform="translate(254.4 414) scale(0.85 1)" font-size="8.4" fill="#1a1a1a" stroke="#1a1a1a" stroke-width="0.12">T</text>
<text x="258.05" y="416" font-size="5.2" fill="#1a1a1a" stroke="#1a1a1a" stroke-width="0.15" textLength="5" lengthAdjust="spacingAndGlyphs">cc</text>
<text transform="translate(222.4 447) scale(0.85 1)" font-size="8.4" fill="#1a1a1a" stroke="#1a1a1a" stroke-width="0.12">T</text>
<text x="226.05" y="449" font-size="5.2" fill="#1a1a1a" stroke="#1a1a1a" stroke-width="0.15" textLength="3.1" lengthAdjust="spacingAndGlyphs">g</text>
<text transform="translate(333.2 468) scale(0.75 1)" font-size="8.4" fill="#1a1a1a" stroke="#1a1a1a" stroke-width="0.12">T</text>
<text x="337.05" y="470" font-size="5.2" fill="#1a1a1a" stroke="#1a1a1a" stroke-width="0.15" textLength="5" lengthAdjust="spacingAndGlyphs">m</text>
</svg>
</body>
</html>
